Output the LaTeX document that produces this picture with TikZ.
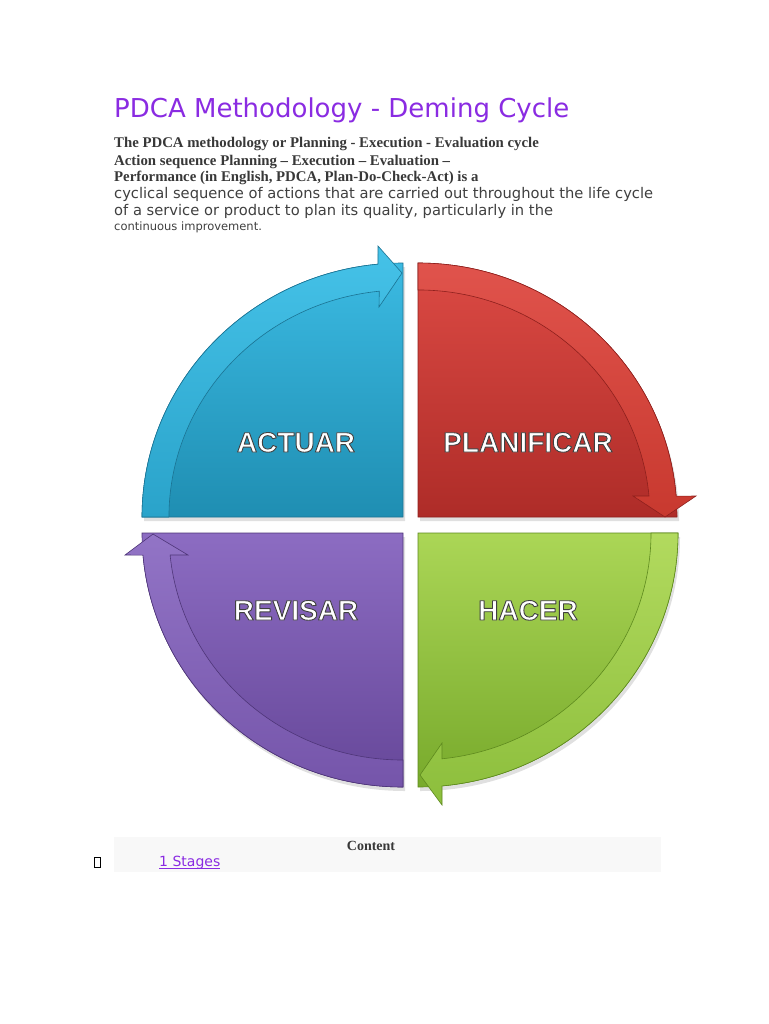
\documentclass[tikz,border=0pt]{standalone}
\usepackage{fontspec}
\setmainfont{Liberation Serif}
\newfontfamily\djv{DejaVu Sans}
\newfontfamily\arlb{Liberation Sans Bold}
\definecolor{titlep}{HTML}{8A2BE2}
\definecolor{txtdk}{HTML}{383838}
\definecolor{txtsf}{HTML}{404040}
\definecolor{bluetop}{HTML}{3BBAE2}
\definecolor{bluebot}{HTML}{1F8EB2}
\definecolor{bluedk}{HTML}{1B7393}
\definecolor{blueband}{HTML}{45C2E8}
\definecolor{bluebandb}{HTML}{2AA3CA}
\definecolor{redtop}{HTML}{DC4A44}
\definecolor{redbot}{HTML}{AE2C28}
\definecolor{reddk}{HTML}{8E201D}
\definecolor{redband}{HTML}{E0534C}
\definecolor{redbandb}{HTML}{C8392F}
\definecolor{purtop}{HTML}{8C6CC2}
\definecolor{purbot}{HTML}{664799}
\definecolor{purdk}{HTML}{4E3578}
\definecolor{purband}{HTML}{9274C6}
\definecolor{purbandb}{HTML}{7555AA}
\definecolor{grntop}{HTML}{ABD656}
\definecolor{grnbot}{HTML}{78AA2C}
\definecolor{grndk}{HTML}{5E8A1E}
\definecolor{grnband}{HTML}{B2DA5E}
\definecolor{grnbandb}{HTML}{8CBE3C}
\definecolor{boxbg}{HTML}{F8F8F8}
\newcommand\olabel[1]{%
  \color{white}\special{pdf:literal direct 2 Tr 0.9 w 1 j 0.25 0.25 0.25 RG}#1\special{pdf:literal direct 0 Tr}}
\tikzset{
  quad/.style={line width=0.6pt},
  band/.style={line width=0.6pt},
  lbl/.style={anchor=base, inner sep=0pt, font=\arlb\fontsize{28}{30}\selectfont},
  serifline/.style={anchor=base west, inner sep=0pt, text=txtdk, font=\bfseries\fontsize{14.8}{16}\selectfont},
  sansline/.style={anchor=base west, inner sep=0pt, text=txtsf, font=\djv\fontsize{14.7}{16}\selectfont},
  shad/.style={fill=black, opacity=0.12}
}
\begin{document}
\begin{tikzpicture}[x=1pt,y=-1pt]
\useasboundingbox (0,0) rectangle (768,1024);
\fill[white] (0,0) rectangle (768,1024);

% texts
\node[anchor=base west, inner sep=0pt, text=titlep, font=\djv\fontsize{26}{30}\selectfont] (title) at (114,118) {PDCA Methodology - Deming Cycle};
\node[serifline] (s1) at (114,148) {The PDCA methodology or Planning - Execution - Evaluation cycle};
\node[serifline] (s2) at (114,166) {Action sequence Planning – Execution – Evaluation –};
\node[serifline] (s3) at (114,182) {Performance (in English, PDCA, Plan-Do-Check-Act) is a};
\node[sansline] (t1) at (114,199) {cyclical sequence of actions that are carried out throughout the life cycle};
\node[sansline] (t2) at (114,216) {of a service or product to plan its quality, particularly in the};
\node[sansline, font=\djv\fontsize{11.5}{13}\selectfont] (t3) at (114,230) {continuous improvement.};

% shadows
\fill[shad] (405,521) -- (144,521) arc[start angle=180,end angle=270,x radius=261,y radius=254] -- cycle;
\fill[shad] (420,521) -- (420,267) arc[start angle=270,end angle=360,x radius=259,y radius=254] -- cycle;
\fill[shad] (405,537) -- (405,791) arc[start angle=90,end angle=180,x radius=261,y radius=254] -- cycle;
\fill[shad] (420,537) -- (680,537) arc[start angle=0,end angle=90,x radius=260,y radius=254] -- cycle;

% ACTUAR (blue)
\path[quad, draw=bluedk, top color=bluetop, bottom color=bluebot] (403,517) -- (142,517) arc[start angle=180,end angle=270,x radius=261,y radius=254] -- cycle;
\path[band, draw=bluedk, top color=blueband, bottom color=bluebandb] (142,517) arc[start angle=180,end angle=264.5,x radius=261,y radius=254] -- (378,246) -- (402,273) -- (379,307) -- (379.3,291.2) arc[start angle=264.2,end angle=180,x radius=234,y radius=227] -- cycle;

% PLANIFICAR (red)
\path[quad, draw=reddk, top color=redtop, bottom color=redbot] (418,517) -- (418,263) arc[start angle=270,end angle=360,x radius=259,y radius=254] -- cycle;
\path[band, draw=reddk, top color=redband, bottom color=redbandb] (418,263) arc[start angle=270,end angle=355.3,x radius=259,y radius=254] -- (696,496) -- (665,517) -- (633,496) -- (649,496) arc[start angle=354.7,end angle=270,x radius=232,y radius=227] -- cycle;

% REVISAR (purple)
\path[quad, draw=purdk, top color=purtop, bottom color=purbot] (403,533) -- (403,787) arc[start angle=90,end angle=180,x radius=261,y radius=254] -- cycle;
\path[band, draw=purdk, top color=purband, bottom color=purbandb] (403,787) arc[start angle=90,end angle=175,x radius=261,y radius=254] -- (125,555) -- (153,534) -- (188,555) -- (170.1,555) arc[start angle=174.44,end angle=90,x radius=234,y radius=227] -- cycle;

% HACER (green)
\path[quad, draw=grndk, top color=grntop, bottom color=grnbot] (418,533) -- (678,533) arc[start angle=0,end angle=90,x radius=260,y radius=254] -- cycle;
\path[band, draw=grndk, top color=grnband, bottom color=grnbandb] (678,533) arc[start angle=0,end angle=84.7,x radius=260,y radius=254] -- (442,805) -- (420,775) -- (442,743) -- (442,758.8) arc[start angle=84.09,end angle=0,x radius=233,y radius=227] -- cycle;

% labels
\node[lbl] (actuar) at (296,452) {\olabel{ACTUAR}};
\node[lbl] (planificar) at (528,452) {\olabel{PLANIFICAR}};
\node[lbl] (revisar) at (296,620) {\olabel{REVISAR}};
\node[lbl] (hacer) at (528,620) {\olabel{HACER}};

% contents box
\fill[boxbg] (114,837) rectangle (661,872);
\node[anchor=base, inner sep=0pt, text=txtdk, font=\bfseries\fontsize{14}{16}\selectfont] (content) at (371,850) {Content};
\draw[black, line width=0.9pt] (94.5,857) rectangle (100,867);
\node[anchor=base west, inner sep=0pt, text=titlep, font=\djv\fontsize{14}{16}\selectfont] (stages) at (159,866) {1 Stages};
\draw[titlep, line width=0.8pt] (stages.base west) ++(0,2.5) -- ++(61,0);
\end{tikzpicture}
\end{document}
